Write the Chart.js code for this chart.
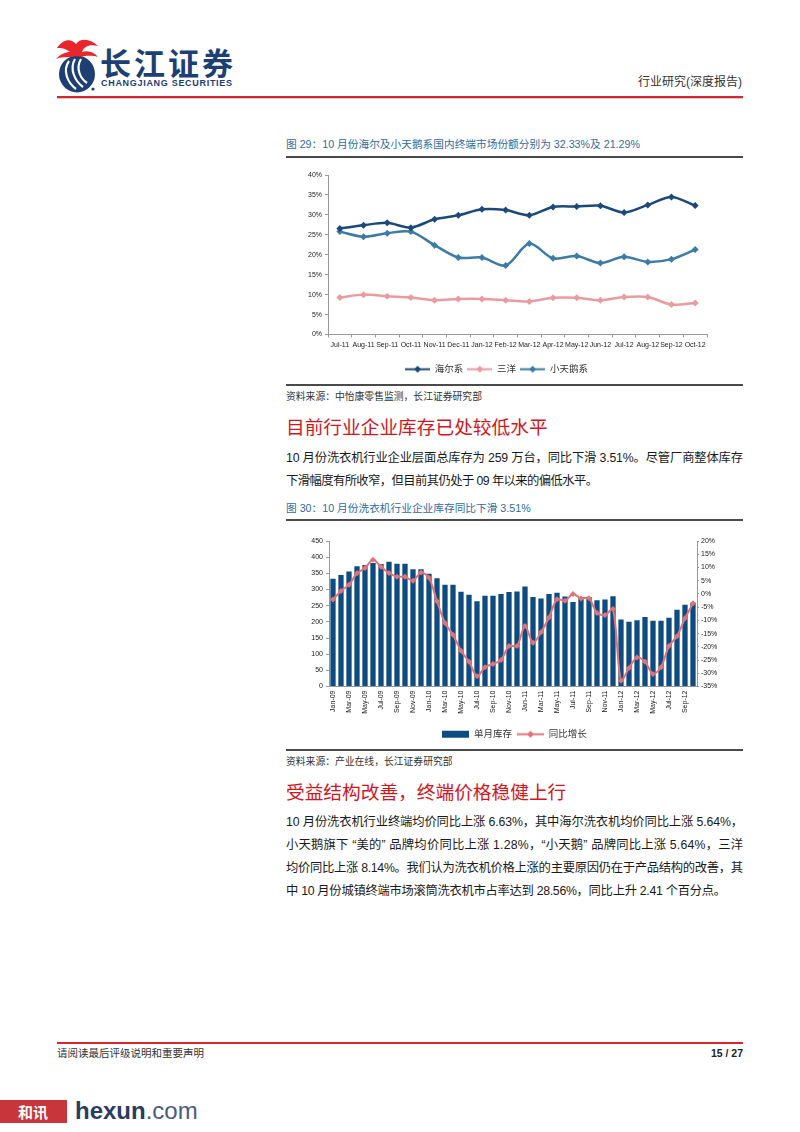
<!DOCTYPE html>
<html>
<head>
<meta charset="utf-8">
<script src="https://cdn.jsdelivr.net/npm/chart.js@4.4.0/dist/chart.umd.min.js"></script>
<style>
  body { margin: 0; background: #fff; }
  #page { position: relative; width: 800px; height: 1132px; overflow: hidden; background: #fff;
          font-family: "Liberation Sans", "Noto Sans CJK SC", sans-serif; color: #222; }
  .abs { position: absolute; white-space: nowrap; }
  .rule { position: absolute; left: 286px; width: 457px; height: 2px; background: #4a4a4a; }
  .figtitle { position: absolute; left: 286px; font-size: 10.7px; line-height: 14px; color: #2f6b9b; white-space: nowrap; }
  .source { position: absolute; left: 286px; font-size: 9.8px; line-height: 14px; color: #333; white-space: nowrap; }
  .heading { position: absolute; left: 286px; font-size: 18.7px; line-height: 24px; color: #d2161d; white-space: nowrap; }
  .para { position: absolute; left: 286px; width: 457px; font-size: 12.3px; line-height: 23px; color: #1a1a1a; }
  .para div { white-space: nowrap; }
  canvas { position: absolute; }
</style>
</head>
<body>
<div id="page">
  <!-- header -->
  <svg class="abs" style="left:53px;top:36px" width="50" height="58" viewBox="0 0 50 58">
    <ellipse cx="24" cy="38" rx="18" ry="18.5" fill="#1d3f73"/>
    <path d="M16 25 C 9 35, 15 47, 23 53 M22 23 C 16 33, 22 45, 30 51 M28 23 C 22 33, 28 43, 34 47" stroke="#fff" stroke-width="2.2" fill="none"/>
    <path d="M4 12 C 10 3, 18 2, 23 8 C 27 2, 37 2, 45 10 C 37 8, 31 10, 29 16 C 35 14, 41 16, 45 21 C 35 18, 27 22, 23 20 C 17 22, 10 20, 3 23 C 8 18, 12 16, 17 16 C 12 12, 8 12, 4 12 Z" fill="#e8262c"/>
    <circle cx="40" cy="53" r="1.6" fill="#1d3f73"/>
  </svg>
  <div class="abs" style="left:100px;top:44px;font-size:31px;line-height:36px;font-weight:bold;color:#1d3f73;letter-spacing:3px;font-family:'Noto Sans CJK SC',sans-serif">长江证券</div>
  <div class="abs" style="left:101px;top:78px;font-size:9px;line-height:10px;font-weight:bold;color:#1d3f73;letter-spacing:0.7px">CHANGJIANG SECURITIES</div>
  <div class="abs" style="right:58px;top:74px;font-size:12px;line-height:16px;color:#333">行业研究(深度报告)</div>
  <div class="abs" style="left:57px;top:96px;width:686px;height:2px;background:#d9262c"></div>
  <div class="abs" style="left:57px;top:98px;width:686px;height:1px;background:#ccc"></div>

  <!-- figure 29 -->
  <div class="figtitle" style="top:137px">图 29：10 月份海尔及小天鹅系国内终端市场份额分别为 32.33%及 21.29%</div>
  <div class="rule" style="top:156px"></div>
  <canvas id="c1" width="457" height="219" style="left:286px;top:165px"></canvas>
  <div class="rule" style="top:384px"></div>
  <div class="source" style="top:390px">资料来源：中怡康零售监测，长江证券研究部</div>

  <div class="heading" style="top:416px">目前行业企业库存已处较低水平</div>
  <div class="para" style="top:447px">
    <div class="full">10 月份洗衣机行业企业层面总库存为 259 万台，同比下滑 3.51%。尽管厂商整体库存</div>
    <div class="fit" data-w="312">下滑幅度有所收窄，但目前其仍处于 09 年以来的偏低水平。</div>
  </div>

  <!-- figure 30 -->
  <div class="figtitle" style="top:501px">图 30：10 月份洗衣机行业企业库存同比下滑 3.51%</div>
  <div class="rule" style="top:519px"></div>
  <canvas id="c2" width="457" height="221" style="left:286px;top:528px"></canvas>
  <div class="rule" style="top:749px"></div>
  <div class="source" style="top:755px">资料来源：产业在线，长江证券研究部</div>

  <div class="heading" style="top:781px">受益结构改善，终端价格稳健上行</div>
  <div class="para" style="top:811px">
    <div class="full">10 月份洗衣机行业终端均价同比上涨 6.63%，其中海尔洗衣机均价同比上涨 5.64%，</div>
    <div class="full">小天鹅旗下 “美的” 品牌均价同比上涨 1.28%，“小天鹅” 品牌同比上涨 5.64%，三洋</div>
    <div class="full">均价同比上涨 8.14%。我们认为洗衣机价格上涨的主要原因仍在于产品结构的改善，其</div>
    <div class="fit" data-w="440">中 10 月份城镇终端市场滚筒洗衣机市占率达到 28.56%，同比上升 2.41 个百分点。</div>
  </div>

  <!-- footer -->
  <div class="abs" style="left:57px;top:1042px;width:686px;height:2px;background:#d9262c"></div>
  <div class="abs" style="left:57px;top:1046px;font-size:10.5px;line-height:14px;color:#333">请阅读最后评级说明和重要声明</div>
  <div class="abs" style="right:57px;top:1046px;font-size:10.5px;line-height:14px;font-weight:bold;color:#222">15 / 27</div>

  <!-- watermark -->
  <div class="abs" style="left:0;top:1100px;width:67px;height:23px;background:#c8353a"></div>
  <div class="abs" style="left:18px;top:1102px;font-size:15px;line-height:19px;color:#fff;font-family:'Noto Sans CJK SC',sans-serif;font-weight:bold">和讯</div>
  <div class="abs" style="left:75px;top:1097px;font-size:24px;line-height:28px;color:#2b3c62"><b>hexun</b><span style="color:#4b5b7e">.com</span></div>
</div>

<script>
// 图29 数据
const months1 = ['Jul-11', 'Aug-11', 'Sep-11', 'Oct-11', 'Nov-11', 'Dec-11', 'Jan-12', 'Feb-12',
                 'Mar-12', 'Apr-12', 'May-12', 'Jun-12', 'Jul-12', 'Aug-12', 'Sep-12', 'Oct-12'];
const haier = [26.6, 27.4, 28.0, 26.8, 28.9, 29.9, 31.4, 31.2, 29.9, 32.0, 32.1, 32.3, 30.6, 32.5, 34.5, 32.33];
const sanyo = [9.3, 10.0, 9.6, 9.3, 8.6, 8.9, 8.9, 8.6, 8.3, 9.2, 9.2, 8.6, 9.4, 9.4, 7.5, 7.9];
const swan = [25.8, 24.5, 25.4, 25.8, 22.4, 19.3, 19.3, 17.3, 22.8, 19.1, 19.7, 17.9, 19.5, 18.2, 18.9, 21.29];

// 图30 数据
const months2 = ['Jan-09', 'Feb-09', 'Mar-09', 'Apr-09', 'May-09', 'Jun-09', 'Jul-09', 'Aug-09', 'Sep-09', 'Oct-09', 'Nov-09', 'Dec-09',
                 'Jan-10', 'Feb-10', 'Mar-10', 'Apr-10', 'May-10', 'Jun-10', 'Jul-10', 'Aug-10', 'Sep-10', 'Oct-10', 'Nov-10', 'Dec-10',
                 'Jan-11', 'Feb-11', 'Mar-11', 'Apr-11', 'May-11', 'Jun-11', 'Jul-11', 'Aug-11', 'Sep-11', 'Oct-11', 'Nov-11', 'Dec-11',
                 'Jan-12', 'Feb-12', 'Mar-12', 'Apr-12', 'May-12', 'Jun-12', 'Jul-12', 'Aug-12', 'Sep-12', 'Oct-12'];
const stock = [333, 345, 356, 372, 376, 382, 379, 386, 380, 380, 363, 363,
               349, 335, 315, 315, 293, 284, 264, 281, 281, 286, 292, 294,
               309, 277, 272, 286, 290, 278, 261, 275, 277, 267, 269, 279,
               207, 200, 205, 215, 203, 203, 213, 237, 253, 259];
const yoy = [-2.1, 1.1, 3.5, 7.8, 9.8, 12.9, 10.3, 7.9, 6.5, 6.5, 5.0, 8.1,
             6.1, -2.8, -11.0, -15.4, -21.5, -25.6, -31.1, -27.7, -26.5, -25.0, -19.7, -19.7,
             -12.1, -18.5, -14.5, -8.9, -2.0, -2.6, 0.0, -1.7, -1.6, -7.2, -8.0, -5.7,
             -32.8, -28.0, -24.0, -25.6, -30.3, -27.7, -19.7, -16.0, -9.2, -3.51];

// 正文整行撑满 457px（用字距微调）
document.querySelectorAll('.para .full, .para .fit').forEach(el => {
  const target = el.dataset.w ? +el.dataset.w : 457;
  const n = el.textContent.length;
  const span = document.createElement('span');
  span.textContent = el.textContent;
  el.textContent = '';
  el.appendChild(span);
  const tw = span.getBoundingClientRect().width;
  el.style.letterSpacing = ((target - tw) / (n - 1)).toFixed(3) + 'px';
});

Chart.defaults.font.family = '"Liberation Sans", "Noto Sans CJK SC", sans-serif';
Chart.defaults.color = '#222';

// legend sample: short line with diamond, or a flat bar
function legendIcon(color, w, kind) {
  const c = document.createElement('canvas');
  c.width = w; c.height = 9;
  const g = c.getContext('2d');
  g.fillStyle = color; g.strokeStyle = color;
  if (kind === 'bar') {
    g.fillRect(0, 1, w, 7);
  } else {
    g.lineWidth = 2;
    g.beginPath(); g.moveTo(0, 4.5); g.lineTo(w, 4.5); g.stroke();
    g.beginPath();
    g.moveTo(w / 2, 1); g.lineTo(w / 2 + 3.5, 4.5); g.lineTo(w / 2, 8); g.lineTo(w / 2 - 3.5, 4.5);
    g.closePath(); g.fill();
  }
  return c;
}

function legendWithIcons(icons) {
  return function (chart) {
    const items = Chart.defaults.plugins.legend.labels.generateLabels(chart);
    items.forEach(it => { it.pointStyle = icons[it.datasetIndex]; it.rotation = 0; });
    return items;
  };
}

const navy = '#1b4a7a', pink = '#eb9ba0', blue = '#3b7ba6';

new Chart(document.getElementById('c1'), {
  type: 'line',
  data: {
    labels: months1,
    datasets: [
      { label: '海尔系', data: haier, borderColor: navy, backgroundColor: navy },
      { label: '三洋', data: sanyo, borderColor: pink, backgroundColor: pink },
      { label: '小天鹅系', data: swan, borderColor: blue, backgroundColor: blue }
    ]
  },
  options: {
    responsive: false,
    animation: false,
    elements: {
      line: { borderWidth: 2.5, tension: 0.3 },
      point: { pointStyle: 'rectRot', radius: 3.5, borderWidth: 0 }
    },
    layout: { padding: { top: 10, right: 36, left: 0, bottom: 0 } },
    plugins: {
      tooltip: { enabled: false },
      legend: {
        position: 'bottom',
        labels: {
          usePointStyle: true,
          pointStyleWidth: 25,
          padding: 4,
          font: { size: 9.5 },
          color: '#333',
          generateLabels: legendWithIcons([legendIcon(navy, 25), legendIcon(pink, 25), legendIcon(blue, 25)])
        }
      }
    },
    scales: {
      x: {
        offset: true,
        grid: { offset: true, drawOnChartArea: false, tickLength: 3, color: '#999' },
        border: { color: '#999' },
        ticks: { font: { size: 7 }, padding: 3, maxRotation: 0, autoSkip: false },
        afterFit(s) { s.height = 26; }
      },
      y: {
        min: 0, max: 40,
        grid: { drawOnChartArea: false, tickLength: 3, color: '#999' },
        border: { color: '#999' },
        ticks: { stepSize: 5, font: { size: 7 }, padding: 3, callback: v => v + '%' },
        afterFit(s) { s.width = 42; }
      }
    }
  }
});

const barColor = '#0d4b80', lineColor = '#e0747a';

new Chart(document.getElementById('c2'), {
  type: 'bar',
  data: {
    labels: months2,
    datasets: [
      { type: 'bar', label: '单月库存', data: stock, backgroundColor: barColor,
        barPercentage: 0.66, categoryPercentage: 1, yAxisID: 'y', order: 2 },
      { type: 'line', label: '同比增长', data: yoy, borderColor: lineColor, backgroundColor: lineColor,
        borderWidth: 2, tension: 0.3, pointStyle: 'rectRot', pointRadius: 3, pointBorderWidth: 0,
        yAxisID: 'y1', order: 1 }
    ]
  },
  options: {
    responsive: false,
    animation: false,
    layout: { padding: { top: 13, right: 0, left: 0, bottom: 0 } },
    plugins: {
      tooltip: { enabled: false },
      legend: {
        position: 'bottom',
        labels: {
          usePointStyle: true,
          pointStyleWidth: 27,
          padding: 5,
          font: { size: 9.5 },
          color: '#333',
          sort: (a, b) => a.datasetIndex - b.datasetIndex,
          generateLabels: legendWithIcons([legendIcon(barColor, 27, 'bar'), legendIcon(lineColor, 27)])
        }
      }
    },
    scales: {
      x: {
        grid: { drawOnChartArea: false, drawTicks: false },
        border: { color: '#999' },
        ticks: {
          autoSkip: false, minRotation: 90, maxRotation: 90, font: { size: 7 }, padding: 4,
          callback(v, i) { return i % 2 === 0 ? this.getLabelForValue(v) : ''; }
        },
        afterFit(s) { s.height = 38; }
      },
      y: {
        position: 'left', min: 0, max: 450,
        grid: { drawOnChartArea: false, tickLength: 3, color: '#999' },
        border: { color: '#999' },
        ticks: { stepSize: 50, font: { size: 7 }, padding: 3 },
        afterFit(s) { s.width = 43; }
      },
      y1: {
        position: 'right', min: -35, max: 20,
        grid: { drawOnChartArea: false, tickLength: 2, color: '#999' },
        border: { color: '#999' },
        ticks: { stepSize: 5, font: { size: 7 }, padding: 2, callback: v => v + '%' },
        afterFit(s) { s.width = 46; }
      }
    }
  }
});
</script>
</body>
</html>
